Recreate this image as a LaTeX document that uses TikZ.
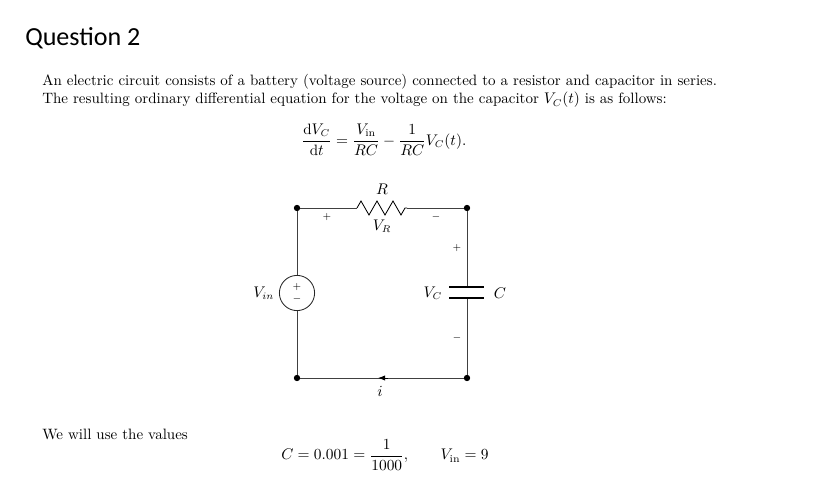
\documentclass[tikz,border=0pt]{standalone}
\usepackage{fontspec}
\usetikzlibrary{arrows.meta}
\newfontfamily\carl{Carlito}
\begin{document}
\begin{tikzpicture}[x=0.71pt,y=-0.71pt,
  wire/.style={draw=black!75,line width=0.6pt},
  dot/.style={circle,fill=black,inner sep=0pt,minimum size=4.5pt},
  fs/.style={font=\fontsize{10.65}{12.8}\selectfont},
  sm/.style={font=\fontsize{7.5}{9}\selectfont},
  txt/.style={anchor=west,inner sep=0pt,fs}]
\useasboundingbox (0,0) rectangle (837,488);
\node[anchor=west,inner sep=0pt,font=\carl\fontsize{18.5}{22}\selectfont] (q) at (25,38) {Question 2};
\node[txt] (l1) at (42,82) {An electric circuit consists of a battery (voltage source) connected to a resistor and capacitor in series.};
\node[txt] (l2) at (42,100) {The resulting ordinary differential equation for the voltage on the capacitor $V_C(t)$ is as follows:};
\node[inner sep=0pt,fs] (eq) at (384,140) {$\displaystyle \frac{\mathrm{d}V_C}{\mathrm{d}t}=\frac{V_{\mathrm{in}}}{RC}-\frac{1}{RC}V_C(t).$};
% circuit
\node[dot] (tl) at (297,208) {};
\node[dot] (tr) at (467,208) {};
\node[dot] (bl) at (297,378) {};
\node[dot] (br) at (467,378) {};
\node[circle,draw=black!85,line width=0.6pt,inner sep=0pt,minimum size=25pt] (src) at (297,293) {};
\node[sm,inner sep=0pt] (sp) at (297,287) {$+$};
\node[sm,inner sep=0pt] (sm) at (297,299) {$-$};
\node[fs,anchor=east] (vin) at (279,293) {$V_{in}$};
\coordinate (r1) at (357,208);
\coordinate (r2) at (407,208);
\draw[wire] (tl) -- (r1);
\draw[wire] (r2) -- (tr);
\draw[line width=0.6pt] (r1) -- ++(4,-7) -- ++(8,14) -- ++(8,-14) -- ++(8,14) -- ++(8,-14) -- ++(8,14) -- ++(4,-7) -- (r2);
\node[fs] (R) at (382,189) {$R$};
\node[fs] (VR) at (382,226) {$V_R$};
\node[sm] (rp) at (327,217) {$+$};
\node[sm] (rm) at (436,217) {$-$};
\coordinate (c1) at (467,287);
\coordinate (c2) at (467,298);
\draw[wire] (tr) -- (c1);
\draw[wire] (c2) -- (br);
\draw[line width=0.8pt] (449,287) -- (484,287) (449,298) -- (484,298);
\node[fs,anchor=east] (VC) at (447,293) {$V_C$};
\node[fs,anchor=west] (C) at (489,293) {$C$};
\node[sm] (cp) at (457,248) {$+$};
\node[sm] (cm) at (457,338) {$-$};
\draw[wire] (tl) -- (src.north);
\draw[wire] (src.south) -- (bl);
\draw[wire] (br) -- (bl);
\coordinate (am) at (378,378);
\draw[-{Latex[length=5pt]},line width=0.6pt] (388,378) -- (am);
\node[fs] (i) at (380,391) {$i$};
\node[txt] (use) at (42,434) {We will use the values};
\node[inner sep=0pt,fs] (vals) at (385,455) {$\displaystyle C=0.001=\frac{1}{1000},\qquad V_{\mathrm{in}}=9$};
\end{tikzpicture}
\end{document}
